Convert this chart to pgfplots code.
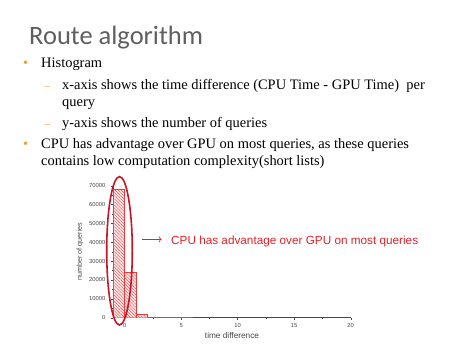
\documentclass[border=0pt]{standalone}
\usepackage{pgfplots}
\pgfplotsset{compat=1.18}
\usepackage{fontspec}
\setmainfont{Liberation Serif}
\newfontfamily\arialf{Liberation Sans}
\newfontfamily\titlef{Carlito}
\usetikzlibrary{patterns,patterns.meta,arrows.meta}
\definecolor{bulletorange}{RGB}{236,160,60}
\definecolor{titlegray}{RGB}{95,95,95}
\definecolor{ellred}{RGB}{200,20,35}
\definecolor{txtred}{RGB}{225,35,40}
\definecolor{barred}{RGB}{230,60,60}
\definecolor{axgray}{RGB}{70,70,70}
\begin{document}
\begin{tikzpicture}[x=1bp,y=1bp]
\useasboundingbox (0,0) rectangle (474,355);
\fill[white] (0,0) rectangle (474,355);
% slide text
\node[anchor=base west, inner sep=0, text=titlegray, font=\titlef\fontsize{26.6}{30}\selectfont] at (29,311) {Route algorithm};
\begin{scope}[every node/.style={anchor=base west, inner sep=0, font=\fontsize{14.5}{17}\selectfont}]
\node[text=bulletorange] at (23,287.5) {•};
\node at (41,287.5) {Histogram};
\node[text=bulletorange, font=\fontsize{11}{12}\selectfont] at (44.5,266) {–};
\node at (62,266) {x-axis shows the time difference (CPU Time - GPU Time)\ \ per};
\node at (62,249) {query};
\node[text=bulletorange, font=\fontsize{11}{12}\selectfont] at (44.5,228) {–};
\node at (62,228) {y-axis shows the number of queries};
\node[text=bulletorange] at (23,207) {•};
\node at (41,207) {CPU has advantage over GPU on most queries, as these queries};
\node at (41,189.5) {contains low computation complexity(short lists)};
\end{scope}
\begin{axis}[
  at={(113.3bp,37.3bp)}, anchor=south west,
  scale only axis, width=237.4bp, height=132bp,
  xmin=-1, xmax=20, ymin=0, ymax=70000,
  axis lines*=left,
  axis line style={axgray, line width=0.5pt},
  xtick={0,5,10,15,20}, minor x tick num=1,
  ytick={0,10000,...,70000}, minor y tick num=1,
  tick align=outside, major tick length=2bp, minor tick length=1.3bp,
  tick style={axgray, line width=0.4pt},
  scaled y ticks=false,
  /pgf/number format/set thousands separator={},
  /pgf/number format/assume math mode=true,
  tick label style={font=\arialf\fontsize{5.8}{6}\selectfont, text=axgray},
  yticklabel style={xshift=-2.5bp},
  xlabel={time difference}, ylabel={number of queries},
  xlabel style={font=\arialf\fontsize{8.3}{9}\selectfont, text=axgray, at={(axis description cs:0.5,0)}, anchor=center, yshift=-17.5bp},
  ylabel style={font=\arialf\fontsize{7.2}{8}\selectfont, text=axgray, at={(axis description cs:-0.14,0.5)}, anchor=center},
]
\addplot[ybar interval, draw=barred, line width=0.4pt, fill=red!8,
  postaction={pattern={Lines[angle=135, distance=2.2bp, line width=0.4bp]}, pattern color=barred}]
  coordinates {(-1,68300) (0,23900) (1,1960) (2,450) (3,180) (4,60) (5,20) (6,0)};
\end{axis}
\draw[ellred, line width=1.6bp] (119.5,104.2) ellipse [x radius=12.8, y radius=74.2];
\draw[txtred, line width=0.6bp, -{To[length=3bp]}] (141.7,115.7) -- (161.7,115.7);
\node[anchor=base west, inner sep=0, text=txtred, font=\arialf\fontsize{11.8}{13}\selectfont] at (171,110.2) {CPU has advantage over GPU on most queries};
\end{tikzpicture}
\end{document}
